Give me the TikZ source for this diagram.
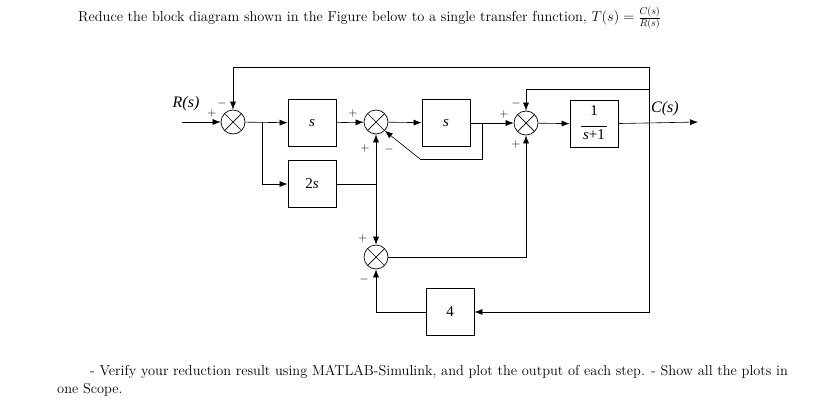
\documentclass[tikz,border=0pt]{standalone}
\usepackage{fontspec}
\newfontfamily\tms{Liberation Serif}
\usetikzlibrary{arrows.meta}
\begin{document}
\begin{tikzpicture}[x=1pt,y=-1pt,
  blk/.style={draw,line width=0.9pt,minimum width=48pt,minimum height=47pt,inner sep=0pt,font=\tms\itshape\fontsize{15}{16}\selectfont},
  sum/.style={draw,circle,minimum size=24pt,inner sep=0pt,line width=0.7pt,path picture={\draw[line width=0.7pt] (path picture bounding box.south west)--(path picture bounding box.north east) (path picture bounding box.north west)--(path picture bounding box.south east);}},
  sig/.style={font=\fontsize{12}{12}\selectfont,inner sep=0pt},
  ar/.style={-{Latex[length=8pt,width=6pt]},line width=0.6pt},
  ln/.style={line width=0.6pt},
  txt/.style={anchor=west,inner sep=0pt,font=\fontsize{14.4}{16}\selectfont}]
\useasboundingbox (0,0) rectangle (826,402);
\node[txt] (title) at (78,18) {Reduce the block diagram shown in the Figure below to a single transfer function, $T(s)=\frac{C(s)}{R(s)}$};
\node (s1) [sum] at (233,122) {};
\node (b1) [blk] at (312,123) {s};
\node (b2) [blk] at (312,184) {\upshape 2\itshape s};
\node (s2) [sum] at (376,122) {};
\node (b3) [blk] at (446,123) {s};
\node (s3) [sum] at (526,123) {};
\node (b4) [blk,font=\tms\fontsize{15}{16}\selectfont] at (594,124) {\begin{tabular}{@{}c@{}}1\\[-5pt]\rule{26pt}{0.6pt}\\[-3pt]\textit{s}+1\end{tabular}};
\node (s4) [sum] at (376,257) {};
\node (b5) [blk,font=\tms\fontsize{15}{16}\selectfont] at (450,312) {4};
\coordinate (in) at (182,122);
\coordinate (out) at (698,122);
\coordinate (j1) at (262,122);
\coordinate (j2) at (376,184);
\coordinate (jo) at (649,122);
\node[font=\tms\itshape\fontsize{16}{17}\selectfont,inner sep=0pt] (rl) at (186,104) {R(s)};
\node[font=\tms\itshape\fontsize{16}{17}\selectfont,inner sep=0pt] (cl) at (665,109) {C(s)};
\draw[ar] (in) -- (s1);
\draw[ar] (s1) -- (b1);
\draw[ar] (j1) |- (b2);
\draw[ar] (b1) -- (s2);
\draw[ar] (s2) -- (b3);
\draw[ar] (b3) -- (s3);
\draw[ar] (s3) -- (b4);
\draw[ar] (b4) -- (out);
\draw[ln] (b2) -- (j2);
\draw[ar] (j2) -- (s2);
\draw[ar] (j2) -- (s4);
\draw[ln] (b3.east) -- ++(12,0) |- (420,159);
\draw[ar] (420,159) -- (s2.-45);
\draw[ar] (s4) -| (s3);
\draw[ar] (jo) |- (b5);
\draw[ar] (b5) -| (s4);
\draw[ar] (jo) |- (233,67) -- (s1);
\draw[ar] (jo) ++(0,-33) -| (s3);
\node[sig] (p1) at (212,114) {+};
\node[sig] (m1) at (222,103) {$-$};
\node[sig] (p2) at (353,114) {+};
\node[sig] (p3) at (365,149) {+};
\node[sig] (m2) at (389,149) {$-$};
\node[sig] (p4) at (504,115) {+};
\node[sig] (m3) at (516,103) {$-$};
\node[sig] (p5) at (516,145) {+};
\node[sig] (p6) at (363,238) {+};
\node[sig] (m4) at (364,279) {$-$};
\node[txt] (t2) at (90,372) {- Verify your reduction result using MATLAB-Simulink, and plot the output of each step. - Show all the plots in};
\node[txt] (t3) at (57,390) {one Scope.};
\end{tikzpicture}
\end{document}
